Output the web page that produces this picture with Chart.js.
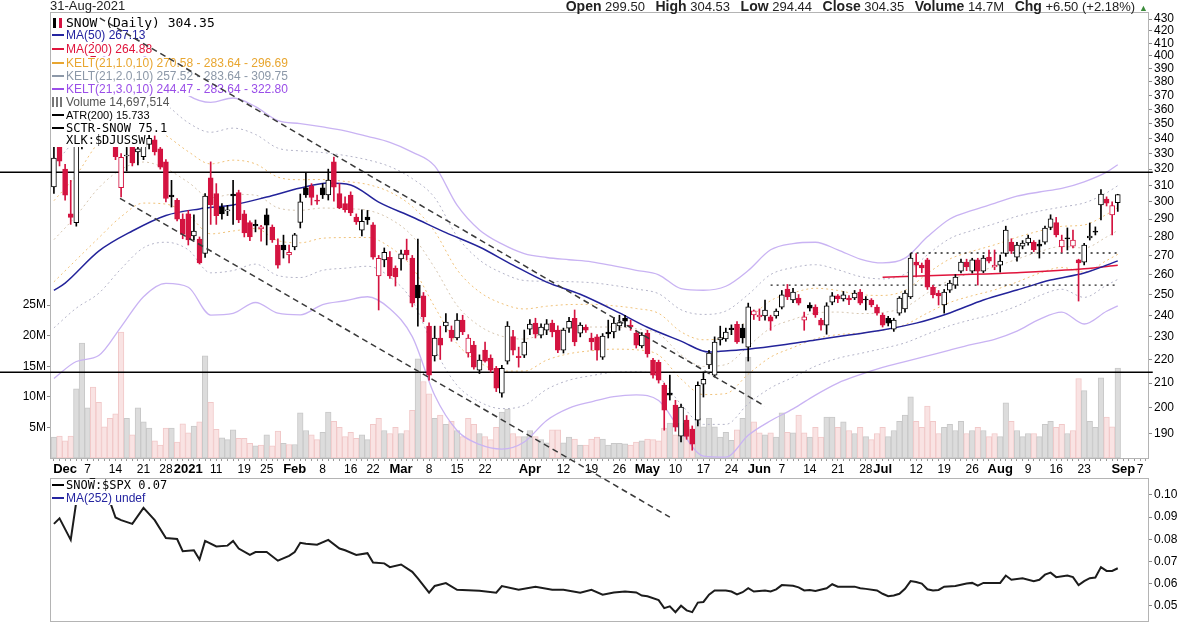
<!DOCTYPE html>
<html>
<head>
<meta charset="utf-8">
<title>SNOW Daily</title>
<script src="https://cdn.jsdelivr.net/npm/chart.js@4.4.1/dist/chart.umd.min.js"></script>
<style>
  html, body { margin: 0; padding: 0; background: #fff; }
  body { position: relative; width: 1200px; height: 630px; overflow: hidden; font-family: "Liberation Sans", Arial, sans-serif; }
  canvas { position: absolute; left: 0; top: 0; }
  #lowerChart { z-index: 1; }
  #mainChart { z-index: 2; }
  #trendChart { z-index: 4; pointer-events: none; }
  .leg { position: absolute; left: 52px; height: 13px; line-height: 13px; white-space: nowrap; background: #fff; font-size: 12px; z-index: 3; padding-right: 1px; }
  .mono { font-family: "DejaVu Sans Mono", monospace; }
  .mk { display: inline-block; width: 12px; height: 2px; margin-right: 2px; vertical-align: middle; position: relative; top: -1px; }
  .ic { display: inline-block; width: 12px; height: 10px; margin-right: 2px; vertical-align: middle; position: relative; top: -1px; }
  #hdrDate { position: absolute; left: 50px; top: -2px; font-size: 13px; color: #222; z-index: 5; }
  #hdrQuote { position: absolute; right: 52px; top: -2px; font-size: 13px; color: #222; white-space: nowrap; z-index: 5; }
  #hdrQuote b { font-size: 14px; margin-left: 7px; }
  #hdrQuote .up { color: #3c8c3c; font-size: 9px; margin-left: 4px; }
</style>
</head>
<body>
<canvas id="lowerChart" width="1200" height="630"></canvas>
<canvas id="mainChart" width="1200" height="630"></canvas>

<div id="hdrDate">31-Aug-2021</div>
<div id="hdrQuote"><b>Open</b> 299.50 <b>High</b> 304.53 <b>Low</b> 294.44 <b>Close</b> 304.35 <b>Volume</b> 14.7M <b>Chg</b> +6.50 (+2.18%)<span class="up">&#9650;</span></div>

<div class="leg mono" style="top:16px;font-size:13px"><span class="ic" style="background:linear-gradient(to right,transparent 1px,#000 1px,#000 4px,transparent 4px,transparent 7px,#d41340 7px,#d41340 10px,transparent 10px)"></span>SNOW (Daily) 304.35</div>
<div class="leg" style="top:29px;color:#2424a0"><span class="mk" style="background:#2424a0"></span>MA(50) 267.13</div>
<div class="leg" style="top:43px;color:#e0143c"><span class="mk" style="background:#e0143c"></span>MA(200) 264.88</div>
<div class="leg" style="top:57px;color:#e8a630"><span class="mk" style="background:#e8a630"></span>KELT(21,1.0,10) 270.58 - 283.64 - 296.69</div>
<div class="leg" style="top:70px;color:#8c98a8"><span class="mk" style="background:#8c98a8"></span>KELT(21,2.0,10) 257.52 - 283.64 - 309.75</div>
<div class="leg" style="top:83px;color:#9a4ee8"><span class="mk" style="background:#9a4ee8"></span>KELT(21,3.0,10) 244.47 - 283.64 - 322.80</div>
<div class="leg" style="top:96px;color:#555"><span class="ic" style="background:linear-gradient(to right,#777 0,#777 2px,transparent 2px,transparent 4px,#777 4px,#777 6px,transparent 6px,transparent 8px,#777 8px,#777 10px,transparent 10px)"></span>Volume 14,697,514</div>
<div class="leg" style="top:109px;color:#000;font-size:11px"><span class="mk" style="background:#000"></span>ATR(200) 15.733</div>
<div class="leg mono" style="top:122px;font-size:12px;color:#000"><span class="mk" style="background:#000"></span>SCTR-SNOW 75.1</div>
<div class="leg mono" style="top:134px;font-size:12px;color:#000;padding-left:14px">XLK:$DJUSSW</div>

<div class="leg mono" style="top:479px;font-size:12px;color:#000"><span class="mk" style="background:#000"></span>SNOW:$SPX 0.07</div>
<div class="leg" style="top:492px;color:#2424a0"><span class="mk" style="background:#2424a0"></span>MA(252) undef</div>

<canvas id="trendChart" width="1200" height="630"></canvas>

<script>
// ---- daily candles, Nov 27 2020 .. Aug 31 2021 (index 0 .. 190) ----
const openP = [309,340,320,293,288,336,370,400,385,358,
  350,345,308.5,328.4,334,331,328,336,339,333,
  324.6,304.1,301,290,293,280.5,278.8,271,314.5,305,
  297,294.7,304.6,305.6,293,288,287,284.5,292.4,285.5,
  275.6,275.6,270.2,274.5,288.1,308.5,309.5,301,308.5,304.1,
  324.6,305,299,304,291.2,283.8,291.2,286.7,259.3,267.6,
  269,263.4,268.1,272.9,268.6,254.7,249.3,234.9,221.5,229.5,
  235,233.1,229.5,237.7,222.8,226.3,215.4,224.1,220.6,216.2,
  205.9,219.3,230.1,221.5,221.9,233.5,236.3,230.8,233,236.3,
  233.1,224.1,234,238.6,231.7,234.5,229.5,230,221,232.2,
  232.2,235,238.6,235.4,231.7,225.9,231.7,219.7,218.8,209.1,
  205.9,201.1,189.2,195.2,191.8,195.2,209.5,217.6,213.3,228.6,
  229.1,234,235.8,234,225.4,240.1,239.2,239.7,239.2,239.7,
  243.9,252.7,247.3,248.3,237.7,244.9,243.9,237.7,235.4,246.3,
  249.3,247.8,248.3,248.3,251.2,247.8,247.3,243.9,240.1,238.6,
  233.5,241,243,248.8,266.5,264.9,267.6,253.7,250.7,244.9,
  252.2,254.7,261.8,266.5,261.8,267.6,261.8,269.1,263.9,264.9,
  271.1,277.2,269.1,275,276.7,277.2,276.1,277.2,285.3,288,
  274.5,279.4,274.9,267.6,266.5,279.4,283.3,298.2,301.7,292.4,
  299.5];
const highP = [334,345,323,313,352,372,398,429,392,366,
  356,350,330,334,336,335,340,345,341.6,334,
  326,313,302,293,295,292.4,280,305,324.6,311,
  299,298,313,307,295,289,289.5,286.5,296,286.7,
  279,281,275.6,282,304.7,317.5,311,304,311,320,
  327.7,311,303,306,293,295.3,295,288,270,274,
  272,264.5,272.9,278.8,270,278.8,251,236.5,234.9,234.9,
  240.8,235,240.8,240,231,228,222,227.7,222,217,
  217.5,237,233,225.4,233.1,238,238.6,236,238,237.7,
  235,234,239,242.5,236.5,235.5,231.7,231,231.5,237.7,
  239,240,240,237.7,233,232,233,220.5,219.7,210,
  213.3,203,201.5,197,193,210.5,214.6,224,230,234.9,
  234,235.5,237,235.8,245.8,242.5,243,247.3,240,243,
  252,255,253,250,241.5,246,245,238.5,246,251,
  250,251.5,249.5,252,252.5,249,248,245,241,239.5,
  238.6,249,252,271,271,266,268.5,254.5,252,252.5,
  257,260,268,268,268.5,268.5,270,272.9,272.9,270.2,
  286,279,277,278,281,278,278.3,286,292.5,291,
  281,285,283.8,268,276.5,287.8,285.6,307.4,303,300,
  304.53];
const lowP = [305,322,301,287,286,333,365,381,355,344,
  335,326,303,318.8,322,322.6,326,333,329,320,
  300,297,289,279,275.6,278.3,265.5,269,287,287,
  290,292,287,288,280,278,282.8,277.7,275.6,277,
  263.3,268.6,266,273,285,302.6,298.2,298.5,302,301.1,
  300.5,296,294,292,287,280.5,287,268,242.5,264,
  258,254.2,262.3,267.6,244,234.9,237,211.2,219.3,220,
  232.2,228,228.6,231,221,215.8,214,218.8,214.5,206.5,
  204.3,218,222,216.7,220.8,231,229.5,229.5,231,230,
  223,222.8,232,226,230,232,224.1,219.7,220,229.5,
  229.5,233,234.5,233,225,225,221,212,210,191.4,
  203.1,191,187,188,184,193,204.3,216,212.5,226.3,
  228,231,227,227.2,219.3,238,237.5,237.7,233,238.6,
  243,247.5,246,244.9,233,242,239,233,231.2,245,
  246,246.8,245,247.5,245,242.5,244,240,234.5,235,
  232.5,240,241.5,248,258.8,261,252.5,248.3,244.9,241,
  251,253,260.8,262,260.8,254.7,261,266,262.5,261.3,
  269.5,271,267,273.5,275.5,272,268.6,276,284,280,
  271.7,272.9,274,246.8,265,278.3,281.1,289.5,297.6,281.1,
  294.44];
const closeP = [327,325,304,291,350,368,392,388,360,350,
  342,328,327.5,329,324,333,336,340,331,321.3,
  302,303,290,281.4,278.3,283.2,266,303.5,298.2,292,
  293,295.3,303.5,289.5,282.2,280,286.2,285.7,286.5,278.3,
  264.9,272.9,271.7,281.1,300,304.1,302.6,300.5,304.1,313.2,
  308.9,296.4,295.5,293.6,288.4,288.8,289.5,269.1,268.5,271.6,
  259.3,258.8,270.8,270.2,245.8,248.3,239.2,213.3,229.5,226.3,
  236.8,229.5,237.7,232.2,229.5,216.7,219.7,219.3,215.4,207.9,
  216.2,234.9,224.1,220.8,227.7,235.9,231.2,234.5,236,232.2,
  224.1,233.1,237.2,227.7,235.4,233.1,227.7,224.1,230.4,231.3,
  236.3,236.6,237.2,234.5,226.3,230.8,222.4,213.3,211.2,199.1,
  205.1,192.5,200.3,189.1,186.2,209.1,211.6,222.8,227.7,229.7,
  232.2,233.3,227.7,229.5,244,242.1,240.1,242.5,237.2,242,
  249.8,248.8,251.2,245.8,239.2,243.4,240.1,235.4,244.5,249.3,
  247.8,249.8,247.3,250.7,245.8,247.3,244.9,241,235.4,236.3,
  237.7,248.3,250.7,268.6,264.9,263.4,253.7,249.8,249.3,251.2,
  255.7,258.7,266.5,263.9,267.6,261.8,268.6,267,264.9,267,
  283.8,272.3,275.6,276.7,279.4,272.9,275,285,290.1,281.1,
  278.3,278.9,278.3,266,275.6,280.5,282.7,304.6,299.3,297.85,
  304.35];
// volume in millions
const volumeM = [3.4,3.6,2.8,3.6,11.3,18.8,8.2,11.6,9.1,5.1,
  6.5,7.2,20.6,6.5,3.8,8.2,5.9,4.9,2.8,2.1,
  4.9,4.9,2.6,5.6,4.1,5.2,5.9,16.7,9.1,4.7,
  3.3,3.0,4.6,3.2,3.2,2.4,2.0,2.1,3.8,2.0,
  4.4,2.4,2.2,2.2,7.4,4.5,3.8,3.0,4.2,7.5,
  6.0,5.0,3.5,4.2,3.2,3.8,3.0,5.5,6.5,4.5,
  4.0,5.0,4.0,4.5,7.8,16.2,12.5,10.5,6.5,7.0,
  5.5,6.0,4.5,3.5,6.5,5.5,4.0,3.5,3.0,5.0,
  7.5,8.0,4.0,3.5,3.5,4.5,3.5,3.0,2.5,4.6,
  4.6,2.5,3.4,3.1,2.1,2.1,3.1,3.4,3.1,2.1,
  2.4,2.4,2.3,2.1,2.6,2.8,3.1,3.0,2.8,4.9,
  5.7,3.8,5.7,5.1,4.6,6.5,5.1,6.5,5.1,3.4,
  4.2,2.9,4.6,6.5,16.5,5.9,4.1,3.8,4.1,3.4,
  7.4,4.2,4.1,7.0,4.1,3.4,5.0,3.4,6.7,6.7,
  5.0,5.9,4.5,4,5,3.5,3,4,5,3.5,
  4.5,6,7,10,6,5,8.5,6,4,5,
  5.5,4.5,6,4,4.5,5,4.5,3.5,4,3.5,
  9,6,4.5,3.5,4,4,3.5,5.5,6,5,
  5.5,4,4.5,13,11,6,5,13.1,6.7,5.1,
  14.7];

// moving averages (day index, value)
const ma50Idx = [0,2,8,14,20,26,32,38,44,49,53,58,64,70,76,82,88,94,101,106,112,117,119,124,130,136,142,148,154,160,166,172,178,184,190];
const ma50Val = [252,255.7,272.3,283.3,292.1,295.9,298.2,302.9,308.3,311.4,310.2,299.9,291.2,282.4,274.5,264.9,256.2,250.1,241.1,234.4,228.1,223.2,223.6,224.5,226.3,228.6,230.8,233.1,236.3,241.1,247.3,252.2,257.2,260.8,267.13];
const ma200Idx = [148,160,172,184,190];
const ma200Val = [258.6,259.8,261,263,264.88];

// Keltner channel: middle line and channel unit width
const keltIdx = [0,4,8,12,16,20,24,28,32,36,40,44,48,52,56,60,64,68,72,76,80,84,88,92,96,100,104,108,112,116,120,124,128,132,136,140,144,148,152,156,160,164,168,172,176,180,184,188,190];
const keltMid = [278.5,292,308.4,319.8,324.5,320.3,311.8,302.5,304.5,304,296.5,295.1,296.4,296,295.1,290.2,280.5,263.5,244.7,235,230.3,229,232,233.8,234.5,234.5,233.7,231.4,222,217,217.8,225.8,234,238,241.1,241.5,240.8,241.3,243.8,250.8,257.1,260.8,264,268,272,274.8,274,280,283.64];
const keltAtr = [22.2,24.3,28.9,28.4,25.2,21.6,19.4,20.8,21.2,19.3,18.5,18.3,17.1,16.35,15.4,15.7,16.8,19.5,17.8,16.3,15.3,14,12.3,11.3,10.7,10,9.5,9.5,10.3,11.7,12.1,12.1,13,12.8,12,10.5,9.1,8.25,8.25,9.75,11,11.4,11.7,11.8,11.3,11.1,12.7,12.7,13.05];

// annotations
const trendUpIdx = [8.2, 127];
const trendUpVal = [430.8, 200.7];
const trendLowIdx = [11.8, 110];
const trendLowVal = [302.1, 161.3];
const levelIdx = [-9.64, 196.25];
const levelVal = [318, 214.5];
const dottedVal = [271.3, 254.7];
const dottedFrom = [153, 128];
const dottedTo = [190, 190];

// SNOW:$SPX ratio
const ratioIdx = [0,1,3,4,5,6,7,8,10,11,12,14,16,18,20,22,23,25,26,27,29,31,32,33,35,36,38,40,42,43,44,45,47,49,51,52,54,56,57,59,60,62,64,65,67,68,70,72,76,79,80,83,86,89,91,94,96,98,100,102,104,105,106,108,109,110,111,112,113,114,115,116,117,118,120,121,122,123,124,125,127,128,129,130,132,133,134,135,136,138,139,140,143,144,145,147,148,149,150,151,152,153,154,155,156,157,158,159,161,163,164,165,166,169,170,171,173,175,176,177,178,179,181,182,183,184,185,186,187,188,189,190];
const ratioVal = [0.0869,0.0894,0.0797,0.0970,0.103,0.106,0.108,0.104,0.0970,0.0898,0.0886,0.0869,0.0941,0.0886,0.0805,0.0801,0.0746,0.0750,0.0708,0.0792,0.0767,0.0771,0.0792,0.0758,0.0729,0.0742,0.0742,0.0703,0.0725,0.0742,0.0784,0.0780,0.0775,0.0797,0.0758,0.0750,0.0729,0.0737,0.0695,0.0691,0.0674,0.0686,0.0653,0.0623,0.0559,0.0589,0.0602,0.0572,0.0568,0.0559,0.0589,0.0572,0.0585,0.0572,0.0572,0.0559,0.0572,0.0550,0.0560,0.0564,0.0560,0.0546,0.0543,0.0525,0.0489,0.0497,0.0471,0.0500,0.0479,0.0471,0.0514,0.0517,0.0550,0.0569,0.0569,0.0564,0.0551,0.0561,0.0579,0.0564,0.0569,0.0564,0.0574,0.0593,0.0590,0.0583,0.0569,0.0571,0.0567,0.0579,0.0597,0.0586,0.0586,0.0579,0.0576,0.0569,0.0554,0.0543,0.0546,0.0554,0.0576,0.0611,0.0607,0.0600,0.0574,0.0569,0.0571,0.0586,0.0589,0.0600,0.0603,0.0591,0.0603,0.0603,0.0636,0.0617,0.0624,0.0611,0.0617,0.0640,0.0649,0.0629,0.0636,0.0629,0.0593,0.0611,0.0624,0.0627,0.0674,0.0657,0.0657,0.0669];

// axis labels
const tickIdx = [2,6,11,16,20,24,29,34,38,43,48,53,57,62,67,72,77,85,91,96,101,106,111,116,121,126,130,135,140,145,148,154,159,164,169,174,179,184,191,194];
const tickText = ['Dec','7','14','21','28','2021','11','19','25','Feb','8','16','22','Mar','8','15','22','Apr','12','19','26','May','10','17','24','Jun','7','14','21','28','Jul','12','19','26','Aug','9','16','23','Sep','7'];
const boldText = ['Dec','2021','Feb','Mar','Apr','May','Jun','Jul','Aug','Sep'];
const priceTicks = [190,200,210,220,230,240,250,260,270,280,290,300,310,320,330,340,350,360,370,380,390,400,410,420,430];
const volumeTicks = [5e6,10e6,15e6,20e6,25e6];
const ratioTicks = [0.05,0.06,0.07,0.08,0.09,0.10];

// ---- build ----
const RED = '#d41340';
const FAMILY = '"Liberation Sans", Arial, sans-serif';
const X_MIN = -0.7, X_MAX = 195.4;
const P_MIN = 181.2, P_MAX = 436;

const idx = closeP.map((_, i) => i);
const upDay = idx.map(i => i === 0 || closeP[i] >= closeP[i - 1]);
const candleColor = upDay.map(u => (u ? '#000000' : RED));
const pts = (xs, ys) => xs.map((x, k) => ({ x, y: ys[k] }));
const keltLine = k => keltIdx.map((x, n) => ({ x, y: keltMid[n] + k * keltAtr[n] }));
const tickMap = new Map(tickIdx.map((v, k) => [v, tickText[k]]));
const dayTicks = [];
for (let d = 0; d <= 195; d++) dayTicks.push(d);

const framePlugin = {
  id: 'frame',
  beforeDatasetsDraw(chart) {
    const { ctx, chartArea: a } = chart;
    ctx.save();
    ctx.strokeStyle = '#b4b4b4';
    ctx.lineWidth = 1;
    ctx.strokeRect(Math.round(a.left) + 0.5, Math.round(a.top) + 0.5, Math.round(a.right - a.left), Math.round(a.bottom - a.top));
    ctx.restore();
  }
};

function lineSet(data, color, width, dash, order, extra) {
  return Object.assign({
    type: 'line', yAxisID: 'y', data, borderColor: color, borderWidth: width,
    borderDash: dash || [], pointRadius: 0, pointHoverRadius: 0, fill: false,
    tension: 0.4, cubicInterpolationMode: 'monotone', order
  }, extra || {});
}

const kelt3 = '#c9b3f3', kelt2 = '#b4b4c8', kelt1 = '#f0c27a';

const mainSets = [
  {
    type: 'bar', yAxisID: 'yv', order: 20, grouped: false,
    data: idx.map(i => ({ x: i, y: volumeM[i] * 1e6 })),
    backgroundColor: upDay.map(u => (u ? '#dcdcdc' : '#f9e3e3')),
    borderColor: upDay.map(u => (u ? '#c8c8c8' : '#f1c8c8')),
    borderWidth: 1, borderSkipped: false,
    barPercentage: 1, categoryPercentage: 1
  },
  lineSet(keltLine(3), kelt3, 1.3, null, 12),
  lineSet(keltLine(-3), kelt3, 1.3, null, 12),
  lineSet(keltLine(2), kelt2, 1, [2, 3], 11),
  lineSet(keltLine(-2), kelt2, 1, [2, 3], 11),
  lineSet(keltLine(1), kelt1, 1, [2, 3], 10),
  lineSet(keltLine(-1), kelt1, 1, [2, 3], 10),
  lineSet(keltLine(0), '#d6c6b0', 1, [2, 3], 10),
  lineSet(pts(ma200Idx, ma200Val), '#e0143c', 1.5, null, 6),
  lineSet(pts(ma50Idx, ma50Val), '#23239a', 1.5, null, 5),
  lineSet(levelIdx.map(x => ({ x, y: levelVal[0] })), '#000', 1.5, null, 4, { tension: 0, clip: false }),
  lineSet(levelIdx.map(x => ({ x, y: levelVal[1] })), '#000', 1.5, null, 4, { tension: 0, clip: false }),
  lineSet([{ x: dottedFrom[0], y: dottedVal[0] }, { x: dottedTo[0], y: dottedVal[0] }], '#222', 1.3, [2, 4], 4, { tension: 0 }),
  lineSet([{ x: dottedFrom[1], y: dottedVal[1] }, { x: dottedTo[1], y: dottedVal[1] }], '#222', 1.3, [2, 4], 4, { tension: 0 }),
  {
    type: 'bar', yAxisID: 'y', order: 2, grouped: false,
    data: idx.map(i => ({ x: i, y: [lowP[i], highP[i]] })),
    backgroundColor: candleColor, borderWidth: 0, barThickness: 1
  },
  {
    type: 'bar', yAxisID: 'y', order: 1, grouped: false,
    data: idx.map(i => ({ x: i, y: [Math.min(openP[i], closeP[i]), Math.max(openP[i], closeP[i])] })),
    backgroundColor: idx.map(i => (closeP[i] >= openP[i] ? '#ffffff' : candleColor[i])),
    borderColor: candleColor, borderWidth: 1, borderSkipped: false,
    barThickness: 5, minBarLength: 1
  }
];

const baseOpts = {
  responsive: false, animation: false, devicePixelRatio: 1,
  plugins: { legend: { display: false }, tooltip: { enabled: false } },
  events: []
};

new Chart(document.getElementById('mainChart'), {
  type: 'bar',
  data: { datasets: mainSets },
  options: Object.assign({}, baseOpts, {
    layout: { padding: { top: 12, bottom: 154, left: 0, right: 0 } },
    scales: {
      x: {
        type: 'linear', min: X_MIN, max: X_MAX, offset: false,
        afterBuildTicks: s => { s.ticks = dayTicks.map(v => ({ value: v })); },
        afterFit: s => { s.height = 18; },
        grid: { offset: false, drawOnChartArea: false, drawTicks: true, tickLength: 3, color: '#9a9a9a' },
        border: { display: true, color: '#b4b4b4' },
        ticks: {
          autoSkip: false, maxRotation: 0, minRotation: 0, padding: 1, color: '#000',
          callback: v => (tickMap.has(v) ? tickMap.get(v) : ''),
          font: c => {
            const t = c.tick ? tickMap.get(c.tick.value) : '';
            return boldText.includes(t) ? { family: FAMILY, size: 13, weight: 'bold' } : { family: FAMILY, size: 12 };
          }
        }
      },
      y: {
        type: 'logarithmic', position: 'right', min: P_MIN, max: P_MAX,
        afterBuildTicks: s => { s.ticks = priceTicks.map(v => ({ value: v })); },
        afterFit: s => { s.width = 52; },
        grid: { drawOnChartArea: false, tickLength: 4, color: '#888' },
        border: { display: true, color: '#b4b4b4' },
        ticks: { callback: v => String(v), color: '#000', padding: 2, font: { family: FAMILY, size: 12 } }
      },
      yv: {
        type: 'linear', position: 'left', min: 0, max: 72.9e6,
        afterBuildTicks: s => { s.ticks = volumeTicks.map(v => ({ value: v })); },
        afterFit: s => { s.width = 50; },
        grid: { drawOnChartArea: false, tickLength: 3, color: '#888' },
        border: { display: true, color: '#b4b4b4' },
        ticks: { callback: v => (v / 1e6) + 'M', color: '#000', padding: 1, font: { family: FAMILY, size: 12 } }
      }
    }
  }),
  plugins: [framePlugin]
});

new Chart(document.getElementById('trendChart'), {
  type: 'line',
  data: {
    datasets: [
      { data: pts(trendUpIdx, trendUpVal), borderColor: '#3a3a3a', borderWidth: 1.5, borderDash: [6, 4], pointRadius: 0, clip: false },
      { data: pts(trendLowIdx, trendLowVal), borderColor: '#3a3a3a', borderWidth: 1.5, borderDash: [6, 4], pointRadius: 0, clip: false }
    ]
  },
  options: Object.assign({}, baseOpts, {
    layout: { padding: { top: 12, bottom: 172, left: 50, right: 52 } },
    scales: {
      x: { type: 'linear', display: false, min: X_MIN, max: X_MAX },
      y: { type: 'logarithmic', display: false, min: P_MIN, max: P_MAX }
    }
  })
});

new Chart(document.getElementById('lowerChart'), {
  type: 'line',
  data: {
    datasets: [{
      data: pts(ratioIdx, ratioVal), borderColor: '#1c1c1c', borderWidth: 2,
      pointRadius: 0, tension: 0
    }]
  },
  options: Object.assign({}, baseOpts, {
    layout: { padding: { top: 478, bottom: 0, left: 50, right: 0 } },
    scales: {
      x: { type: 'linear', display: false, min: X_MIN, max: X_MAX },
      y: {
        type: 'linear', position: 'right', min: 0.0432, max: 0.1076,
        afterBuildTicks: s => { s.ticks = ratioTicks.map(v => ({ value: v })); },
        afterFit: s => { s.width = 52; },
        grid: { drawOnChartArea: false, tickLength: 4, color: '#888' },
        border: { display: true, color: '#b4b4b4' },
        ticks: { callback: v => v.toFixed(2), color: '#000', padding: 2, font: { family: FAMILY, size: 12 } }
      }
    }
  }),
  plugins: [framePlugin]
});
</script>
</body>
</html>
